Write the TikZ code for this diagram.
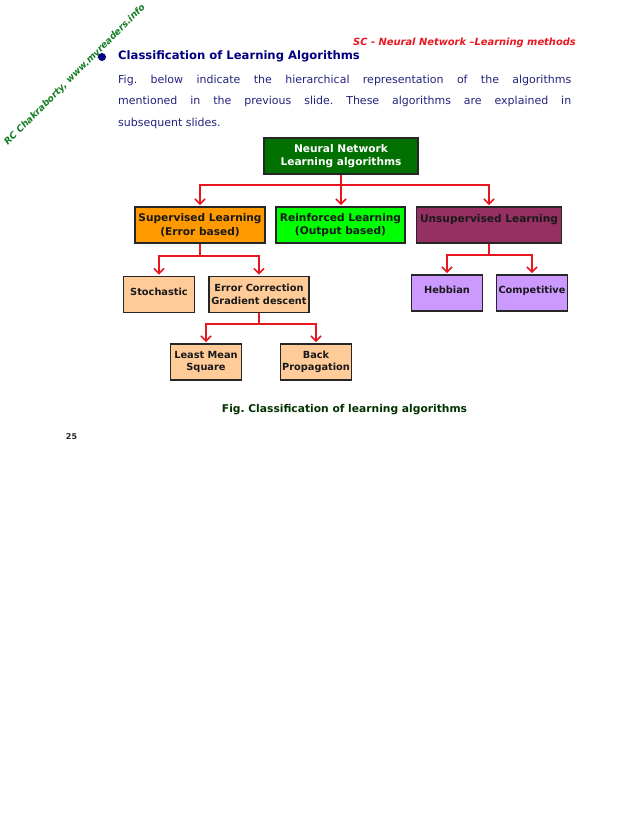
\documentclass[tikz,border=0pt]{standalone}
\usepackage{fontspec}
\setmainfont{DejaVu Sans}
\usepackage{tikz}
\usetikzlibrary{calc}
\usetikzlibrary{arrows.meta}
\definecolor{navyblue}{RGB}{0,0,128}
\definecolor{bodyblue}{RGB}{35,35,125}
\definecolor{rootgreen}{RGB}{0,112,0}
\definecolor{supcolor}{RGB}{255,153,0}
\definecolor{reicolor}{RGB}{0,255,0}
\definecolor{unscolor}{RGB}{150,48,98}
\definecolor{peach}{RGB}{255,204,153}
\definecolor{lilac}{RGB}{204,153,255}
\definecolor{linkred}{RGB}{232,22,32}
\definecolor{markgreen}{RGB}{20,125,35}
\definecolor{capgreen}{RGB}{0,51,0}
\tikzset{>={Straight Barb[length=5pt,width=10pt,line width=1.5pt]}}
\tikzset{
  algobox/.style={draw=black!85,line width=1.9pt,inner sep=0pt,align=center,text=black!90,
    font=\fontsize{9.8}{12.5}\selectfont\bfseries},
  bigbox/.style={algobox,minimum height=36pt,font=\fontsize{10.6}{13.5}\selectfont\bfseries},
  peachbox/.style={algobox,fill=peach,minimum width=71pt,minimum height=36pt},
  lilacbox/.style={algobox,fill=lilac,minimum width=71pt,minimum height=36pt},
  link/.style={draw=linkred,line width=1.8pt,shorten >=1pt}
}
\begin{document}
\begin{tikzpicture}[x=1pt,y=-1pt]
            \useasboundingbox (0,0) rectangle (638,826);
            % page text
            \node[rotate=45,text=markgreen,font=\fontsize{9.2}{12}\selectfont\bfseries\itshape] (mark) at (75,75) {RC Chakraborty, www.myreaders.info};
            \node[anchor=east,inner sep=0pt,text=linkred,font=\fontsize{9.9}{12}\selectfont\bfseries\itshape] (head) at (576,43) {SC - Neural Network --Learning methods};
            \node[circle,fill=navyblue,inner sep=0pt,minimum size=8pt] (bullet) at (102,57) {};
            \node[anchor=west,inner sep=0pt,text=navyblue,font=\fontsize{11.6}{14}\selectfont\bfseries] (title) at (118,56) {Classification of Learning Algorithms};
            \node[anchor=north west,inner sep=0pt,text width=453pt,align=justify,text=bodyblue,font=\fontsize{11}{21.4}\selectfont\frenchspacing] (para) at (118,75) {Fig. below indicate the hierarchical representation of the algorithms\linebreak mentioned in the previous slide. These algorithms are explained in\linebreak subsequent slides.};
            % boxes
            \node[bigbox,fill=rootgreen,text=white,minimum width=154pt] (root) at (341,156) {Neural Network\\Learning algorithms};
            \node[bigbox,fill=supcolor,minimum width=130pt] (sup) at (200,225) {Supervised Learning\\(Error based)};
            \node[bigbox,fill=reicolor,minimum width=129pt] (rei) at (340.5,225) {Reinforced Learning\\(Output based)};
            \node[bigbox,fill=unscolor,minimum width=145pt] (uns) at (489,225) {Unsupervised Learning\\\mbox{}};
            \node[peachbox] (sto) at (159,294.5) {Stochastic\\[-7pt]\mbox{}};
            \node[peachbox,minimum width=100pt] (err) at (259,294.5) {Error Correction\\Gradient descent};
            \node[lilacbox] (heb) at (447,293) {Hebbian\\[-7pt]\mbox{}};
            \node[lilacbox] (com) at (532,293) {Competitive\\[-7pt]\mbox{}};
            \node[peachbox] (lms) at (206,362) {Least Mean\\Square};
            \node[peachbox] (bac) at (316,362) {Back\\Propagation};
            \node[text=capgreen,font=\fontsize{10.7}{13}\selectfont\bfseries\frenchspacing] (cap) at (344.5,410) {Fig. Classification of learning algorithms};
            \node[font=\fontsize{8}{10}\selectfont\bfseries,text=black!85] (num) at (71.5,437) {25};
            % joints of the links
            \coordinate (rootbus) at (341,185);
            \coordinate (supbus) at (200,256);
            \coordinate (unsbus) at (489,255);
            \coordinate (errbus) at (259,324);
            \draw[link] (root.south) -- (rootbus);
            \draw[link,->] (rootbus) -| (sup.north);
            \draw[link,->] (rootbus) -- (rootbus |- rei.north);
            \draw[link,->] (rootbus) -| (uns.north);
            \draw[link] (sup.south) -- (supbus);
            \draw[link,->] (supbus) -| (sto.north);
            \draw[link,->] (supbus) -| (err.north);
            \draw[link] (uns.south) -- (unsbus);
            \draw[link,->] (unsbus) -| (heb.north);
            \draw[link,->] (unsbus) -| (com.north);
            \draw[link] (err.south) -- (errbus);
            \draw[link,->] (errbus) -| (lms.north);
            \draw[link,->] (errbus) -| (bac.north);
        \end{tikzpicture}
\end{document}
